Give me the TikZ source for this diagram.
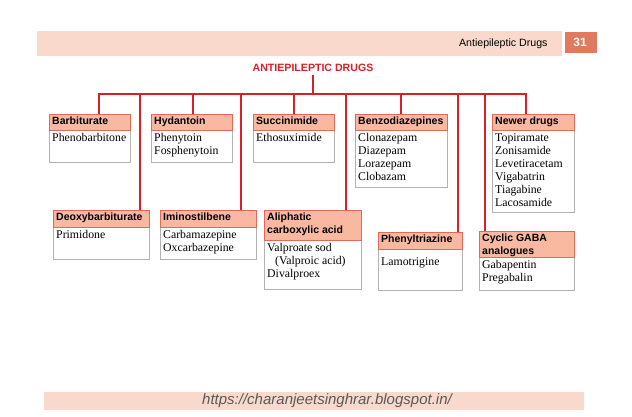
\documentclass[tikz,border=0pt]{standalone}
\usepackage{fontspec}
\setmainfont{Liberation Serif}
\setsansfont{Liberation Sans}
\usetikzlibrary{shadows,calc}
\definecolor{band}{HTML}{F9D9CC}
\definecolor{numbox}{HTML}{E07A5F}
\definecolor{hdr}{HTML}{F8B9A0}
\definecolor{hdrline}{HTML}{E06A5A}
\definecolor{linered}{HTML}{D81F2A}
\tikzset{
  conn/.style={linered, line width=1.6pt},
  hbox/.style={draw=hdrline, fill=hdr, line width=0.6pt},
  bbox/.style={draw=gray!60, fill=white, line width=0.5pt, drop shadow={shadow xshift=1.2pt, shadow yshift=-1.2pt, opacity=0.5}},
  htext/.style={anchor=north west, font=\sffamily\bfseries\fontsize{10.5}{12.5}\selectfont, inner sep=0pt, align=left},
  btext/.style={anchor=north west, font=\fontsize{11.8}{13}\selectfont, inner sep=0pt, align=left},
}
\newcommand{\drugbox}[8]{% name, x1, x2, ytop, yhdr, ybot, header, body
  \fill[bbox] (#2,#4) rectangle (#3,#6);
  \draw[hbox] (#2,#4) coordinate (#1) rectangle (#3,#5);
  \node[htext] (#1h) at ($(#2,#4)+(3,3)$) {#7};
  \node[btext] (#1b) at ($(#2,#5)+(3,3)$) {#8};
}
\begin{document}
\begin{tikzpicture}[x=1pt,y=-1pt]
\useasboundingbox (0,0) rectangle (632,416);
\fill[white] (0,0) rectangle (632,416);
% top band
\fill[band] (37,31) rectangle (562,56);
\fill[numbox] (565,32) rectangle (597,53);
\node[anchor=east, font=\sffamily\fontsize{10.6}{12}\selectfont] (hdrt) at (551,44) {Antiepileptic Drugs};
\node[font=\sffamily\bfseries\fontsize{12}{13}\selectfont, text=white] (num) at (580,42.5) {31};
% title
\node[font=\sffamily\bfseries\fontsize{10.6}{12}\selectfont, text=linered] (title) at (313,68) {ANTIEPILEPTIC DRUGS};
% connectors
\draw[conn] (title.south) -- (313,94);
\draw[conn] (99,114) -- (99,94) -- (526,94) -- (526,114);
\foreach \x/\y in {140/210,193/114,241/210,294/114,346/210,401/114,458/232,485/231}
  \draw[conn] (\x,94) -- (\x,\y);
% boxes
\drugbox{barb}{49}{130}{114}{130}{162}{Barbiturate}{Phenobarbitone}
\drugbox{hyd}{151}{232}{114}{130}{162}{Hydantoin}{Phenytoin\\Fosphenytoin}
\drugbox{suc}{253}{334}{114}{130}{162}{Succinimide}{Ethosuximide}
\drugbox{benz}{355}{447}{114}{130}{187}{Benzodiazepines}{Clonazepam\\Diazepam\\Lorazepam\\Clobazam}
\drugbox{newer}{492}{574}{114}{130}{212}{Newer drugs}{Topiramate\\Zonisamide\\Levetiracetam\\Vigabatrin\\Tiagabine\\Lacosamide}
\drugbox{deoxy}{53}{149}{210}{227}{259}{Deoxybarbiturate}{Primidone}
\drugbox{imino}{160}{256}{210}{227}{259}{Iminostilbene}{Carbamazepine\\Oxcarbazepine}
\drugbox{aliph}{264}{361}{210}{240}{289}{Aliphatic\\carboxylic acid}{Valproate sod\\\hspace{8pt}(Valproic acid)\\Divalproex}
\drugbox{phen}{378}{462}{232}{249}{290}{Phenyltriazine}{\rule{0pt}{13pt}Lamotrigine}
\drugbox{cyc}{479}{574}{231}{257}{290}{Cyclic GABA\\analogues}{Gabapentin\\Pregabalin}
% bottom band
\fill[band] (44,392) rectangle (584,410);
\node[font=\sffamily\itshape\fontsize{15}{16}\selectfont, text=black!65] (url) at (327,401) {https://charanjeetsinghrar.blogspot.in/};
\end{tikzpicture}
\end{document}
